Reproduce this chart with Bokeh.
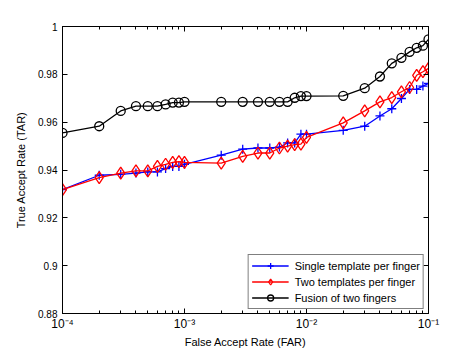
from bokeh.plotting import figure
from bokeh.models import FixedTicker, LinearAxis, LogAxis, Range1d, CustomJSTickFormatter
from bokeh.embed import file_html
from bokeh.resources import INLINE

# ---- data ----
far = [1e-4, 2e-4, 3e-4, 4e-4, 5e-4, 6e-4, 7e-4, 8e-4, 9e-4, 1e-3,
       2e-3, 3e-3, 4e-3, 5e-3, 6e-3, 7e-3, 8e-3, 9e-3, 1e-2,
       2e-2, 3e-2, 4e-2, 5e-2, 6e-2, 7e-2, 8e-2, 9e-2, 1e-1]
single = [0.9318, 0.9378, 0.9382, 0.9387, 0.9392, 0.9392, 0.9406, 0.9415, 0.9415, 0.9424,
          0.9462, 0.9487, 0.9492, 0.9492, 0.9496, 0.9513, 0.9513, 0.9550, 0.9550,
          0.9566, 0.9583, 0.9626, 0.9656, 0.9699, 0.9737, 0.9737, 0.9751, 0.9762]
two = [0.9318, 0.9368, 0.9387, 0.9396, 0.9396, 0.9415, 0.9424, 0.9432, 0.9435, 0.9432,
       0.9429, 0.9457, 0.9471, 0.9471, 0.9492, 0.9500, 0.9506, 0.9508, 0.9536,
       0.9597, 0.9647, 0.9685, 0.9703, 0.9727, 0.9745, 0.9796, 0.9811, 0.9825]
fusion = [0.9555, 0.9583, 0.9647, 0.9667, 0.9667, 0.9667, 0.9674, 0.9682, 0.9682, 0.9685,
          0.9685, 0.9685, 0.9685, 0.9685, 0.9685, 0.9685, 0.9702, 0.9709, 0.9709,
          0.9710, 0.9742, 0.9791, 0.9846, 0.9869, 0.9894, 0.9911, 0.9920, 0.9946]

series_names = ["Single template per finger", "Two templates per finger", "Fusion of two fingers"]

x_ticks = [1e-4, 1e-3, 1e-2, 1e-1]
x_tick_labels = ["10\u207b\u2074", "10\u207b\u00b3", "10\u207b\u00b2", "10\u207b\u00b9"]
x_minor = [m * d for d in [1e-4, 1e-3, 1e-2] for m in range(2, 10)]
y_ticks = [0.88, 0.9, 0.92, 0.94, 0.96, 0.98, 1.0]
y_tick_labels = ["0.88", "0.9", "0.92", "0.94", "0.96", "0.98", "1"]

FONT = "Liberation Sans"

p = figure(width=474, height=353, x_axis_type="log",
           x_range=Range1d(1e-4, 1e-1), y_range=Range1d(0.88, 1.0),
           output_backend="svg", toolbar_location=None,
           min_border_left=62, min_border_right=46, min_border_top=26, min_border_bottom=40,
           background_fill_color="white", border_fill_color="white")

p.xgrid.visible = False
p.ygrid.visible = False
p.outline_line_color = "black"
p.outline_line_width = 1

xt = FixedTicker(ticks=x_ticks, minor_ticks=x_minor)
yt = FixedTicker(ticks=y_ticks)


def style(ax):
    ax.axis_line_color = "black"
    ax.major_tick_line_color = "black"
    ax.minor_tick_line_color = "black"
    ax.major_tick_in = 5
    ax.major_tick_out = 0
    ax.minor_tick_in = 3
    ax.minor_tick_out = 0
    ax.major_label_text_font = FONT
    ax.major_label_text_color = "black"
    ax.major_label_text_font_size = "10px"
    ax.major_label_standoff = 5
    ax.axis_label_text_font = FONT
    ax.axis_label_text_font_size = "11px"
    ax.axis_label_text_font_style = "normal"
    ax.axis_label_text_color = "black"


xa = p.xaxis[0]
xa.ticker = xt
xa.formatter = CustomJSTickFormatter(
    args=dict(t=x_ticks, l=x_tick_labels),
    code="let best=0,bd=1e9;for(let i=0;i<t.length;i++){const d=Math.abs(Math.log10(t[i])-Math.log10(tick));if(d<bd){bd=d;best=i}}return l[best];")
xa.axis_label = "False Accept Rate (FAR)"
xa.axis_label_standoff = 2
style(xa)
xa.major_label_text_font_size = "12px"
xa.major_label_standoff = 3

ya = p.yaxis[0]
ya.ticker = yt
ya.formatter = CustomJSTickFormatter(
    args=dict(t=y_ticks, l=y_tick_labels),
    code="let best=0,bd=1e9;for(let i=0;i<t.length;i++){const d=Math.abs(t[i]-tick);if(d<bd){bd=d;best=i}}return l[best];")
ya.axis_label = "True Accept Rate (TAR)"
ya.axis_label_standoff = 8
style(ya)

top = LogAxis(ticker=FixedTicker(ticks=x_ticks, minor_ticks=x_minor),
              formatter=CustomJSTickFormatter(code="return ''"))
style(top)
top.major_label_standoff = 0
p.add_layout(top, "above")
right = LinearAxis(ticker=FixedTicker(ticks=y_ticks),
                   formatter=CustomJSTickFormatter(code="return ''"))
style(right)
right.major_label_standoff = 0
right.minor_tick_in = 0
p.add_layout(right, "right")

lw = 1.3
p.line(far, single, line_color="blue", line_width=lw, legend_label=series_names[0])
p.scatter(far, single, marker="cross", size=9, line_color="blue", line_width=lw,
          legend_label=series_names[0])
p.line(far, two, line_color="red", line_width=lw, legend_label=series_names[1])
p.scatter(far, two, marker="diamond", size=12, line_color="red", fill_color=None,
          line_width=lw, legend_label=series_names[1])
p.line(far, fusion, line_color="black", line_width=lw, legend_label=series_names[2])
p.scatter(far, fusion, marker="circle", size=9, line_color="black", fill_color=None,
          line_width=lw, legend_label=series_names[2])

lg = p.legend[0]
lg.location = "bottom_right"
lg.margin = 4
lg.padding = 3
lg.spacing = 1
lg.border_line_color = "black"
lg.border_line_width = 1
lg.background_fill_color = "white"
lg.background_fill_alpha = 1
lg.label_text_font = FONT
lg.label_text_font_size = "11px"
lg.label_text_color = "black"
lg.glyph_width = 37
lg.glyph_height = 15
lg.label_height = 15
lg.label_standoff = 6

open("out.html", "w").write(file_html(p, INLINE))
